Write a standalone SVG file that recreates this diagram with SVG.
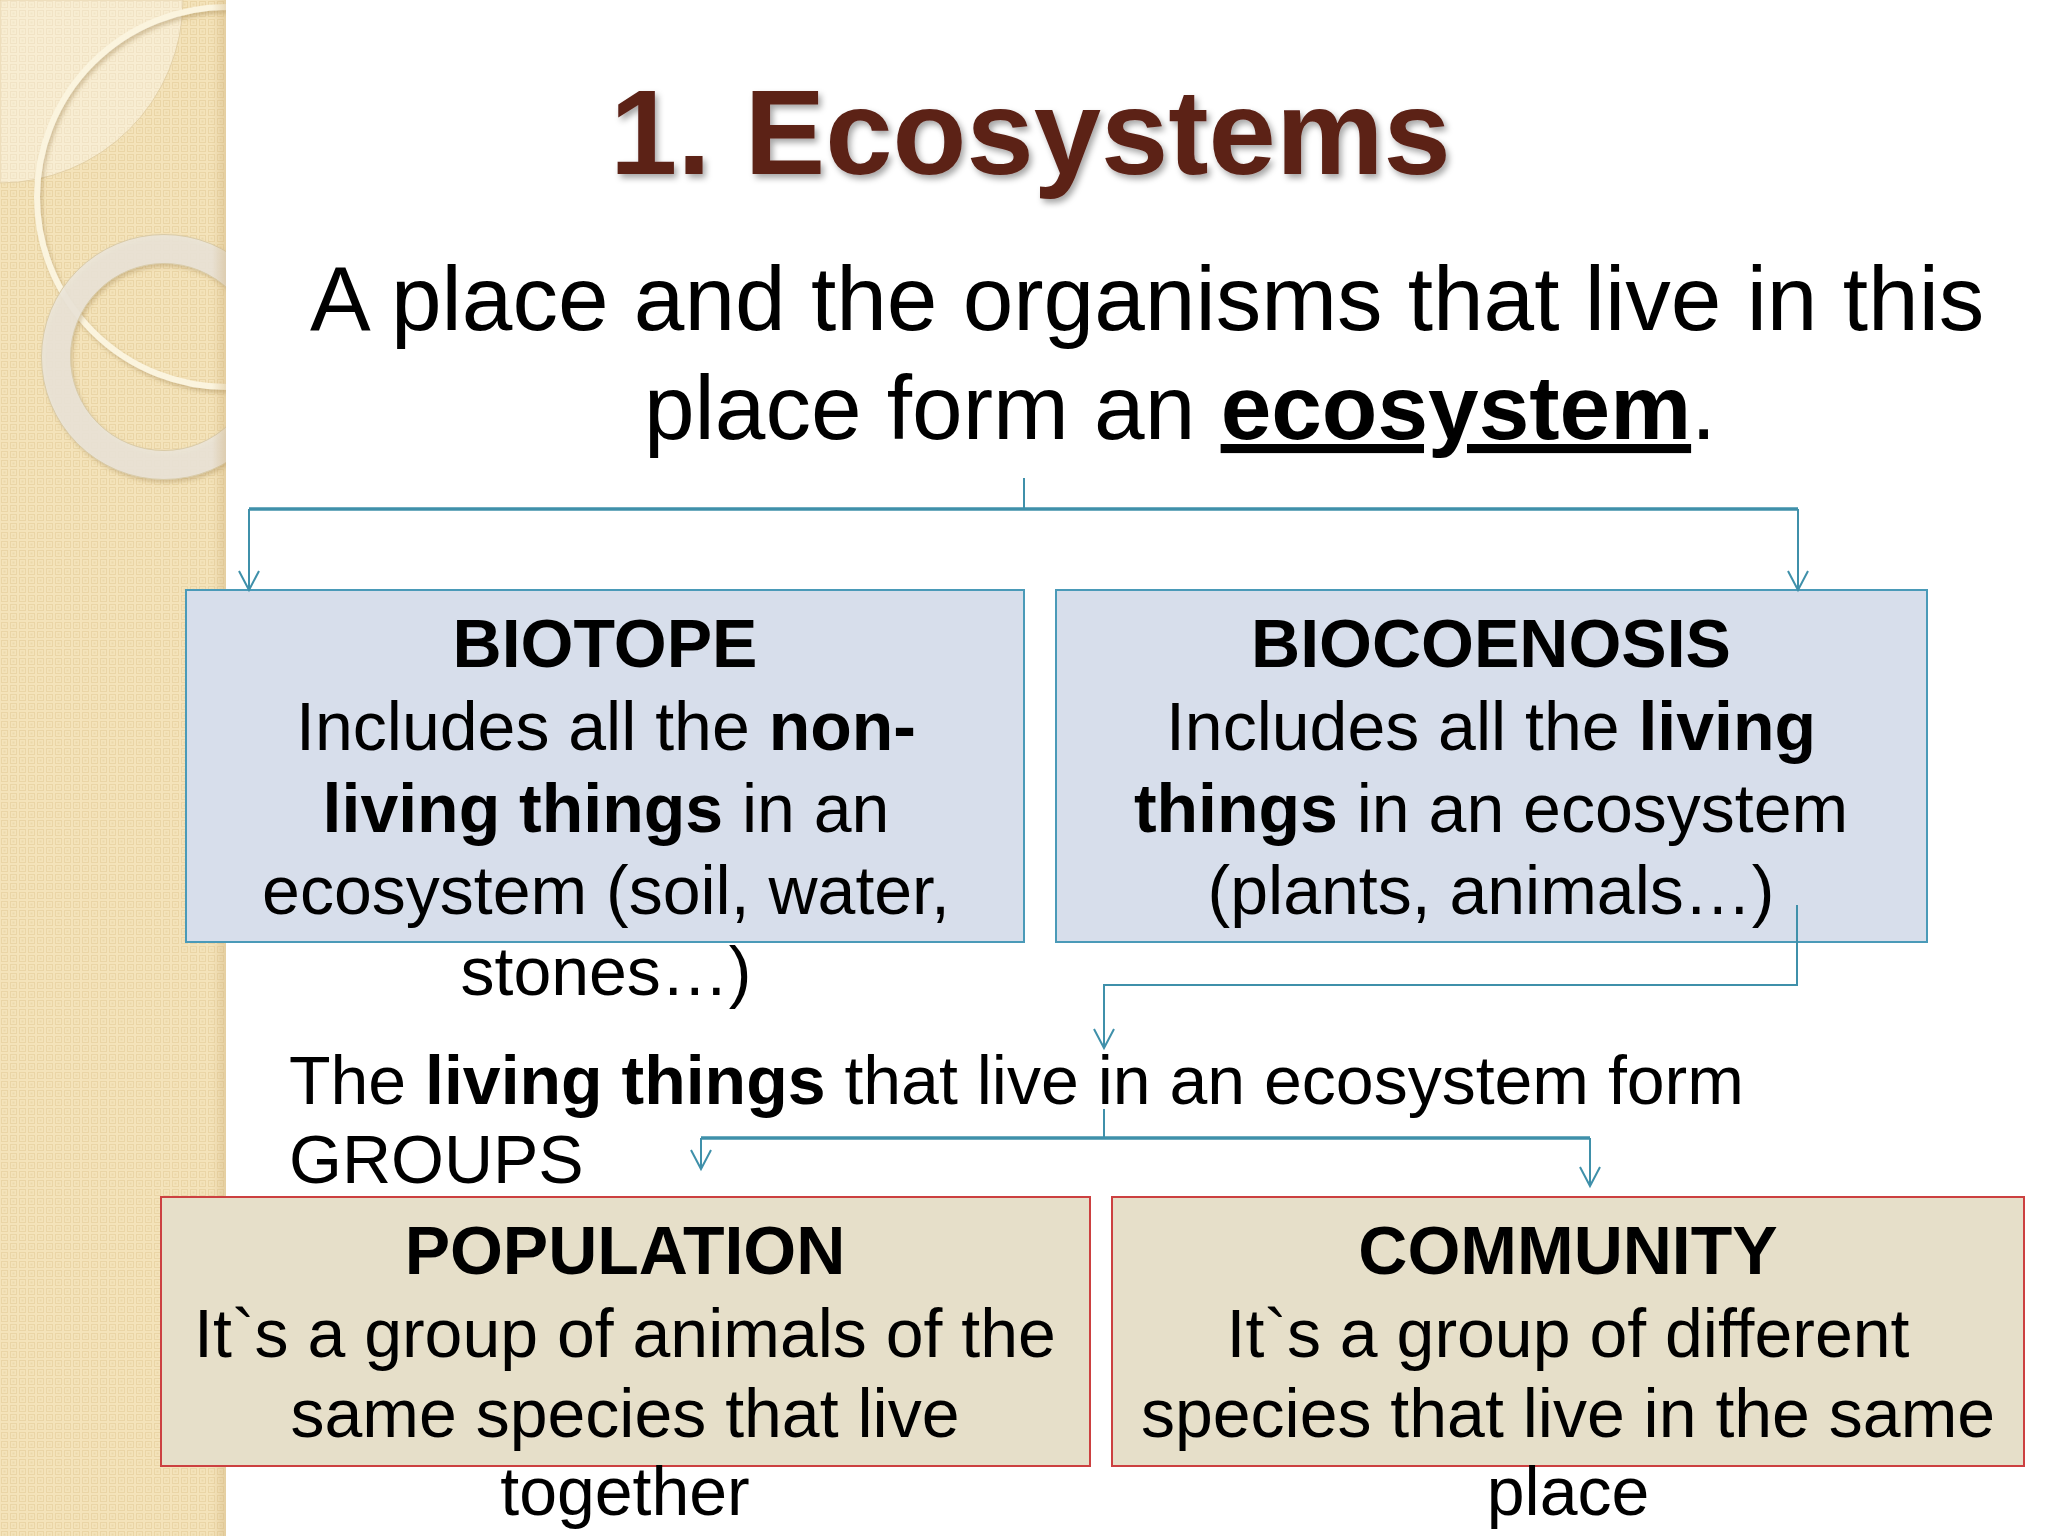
<svg xmlns="http://www.w3.org/2000/svg" width="2048" height="1536" viewBox="0 0 2048 1536">
<style>
.t{font-family:"Liberation Sans",Arial,Helvetica,sans-serif;fill:#000}
.b{font-weight:bold}
.c{text-anchor:middle}
.bx{font-size:68px}
.blue{fill:#D7DEEB;stroke:#4A9AB8;stroke-width:2}
.tan{fill:#E6DFC9;stroke:#CC4040;stroke-width:2}
.thin{fill:none;stroke:#3F90AA;stroke-width:2}
.thick{fill:none;stroke:#3F90AA;stroke-width:3.5}
</style>
<defs>
<pattern id="pat" width="9" height="9" patternUnits="userSpaceOnUse">
<rect width="9" height="9" fill="#F4E3BA"/>
<rect x="1.5" y="1.5" width="6" height="6" fill="none" stroke="#EAD5A6" stroke-width="1"/>
<rect x="3.5" y="3.5" width="2" height="2" fill="#EBD7A9"/>
</pattern>
<linearGradient id="edge" x1="0" y1="0" x2="1" y2="0">
<stop offset="0" stop-color="#C8A870" stop-opacity="0"/>
<stop offset="1" stop-color="#C8A870" stop-opacity="0.35"/>
</linearGradient>
<filter id="ts" x="-5%" y="-20%" width="110%" height="150%">
<feDropShadow dx="3" dy="4" stdDeviation="3" flood-color="#000" flood-opacity="0.35"/>
</filter>
<filter id="rs" x="-20%" y="-20%" width="140%" height="140%">
<feDropShadow dx="2" dy="3" stdDeviation="2" flood-color="#8A6A30" flood-opacity="0.35"/>
</filter>
<marker id="ah" markerUnits="userSpaceOnUse" markerWidth="24" markerHeight="24" refX="0" refY="0" orient="auto" viewBox="-22 -12 24 24" overflow="visible">
<path d="M-19,-10 L0,0 L-19,10" fill="none" stroke="#3F90AA" stroke-width="2"/>
</marker>
</defs>

<g id="background">
<rect width="2048" height="1536" fill="#FFFFFF"/>
<rect x="0" y="0" width="226" height="1536" fill="url(#pat)"/>
<path d="M0,0 H183 A183,183 0 0 1 0,183 Z" fill="#FFFFFF" fill-opacity="0.35" stroke="#E3D0A6" stroke-width="1"/>
<circle cx="227" cy="197" r="190" fill="none" stroke="#FBF4DE" stroke-width="6" filter="url(#rs)"/>
<circle cx="164" cy="357" r="108" fill="none" stroke="#EAE5DA" stroke-width="29" stroke-opacity="0.88" filter="url(#rs)"/>
<circle cx="164" cy="357" r="122.5" fill="none" stroke="#D9CBA8" stroke-width="1"/>
<circle cx="164" cy="357" r="93.5" fill="none" stroke="#D9CBA8" stroke-width="1"/>
<rect x="212" y="0" width="14" height="1536" fill="url(#edge)"/>
<rect x="226" y="0" width="1822" height="1536" fill="#FFFFFF"/>
</g>

<g id="title">
<text class="t b" x="610" y="174" font-size="121" style="fill:#5B2219" filter="url(#ts)">1. Ecosystems</text>
</g>

<g id="definition">
<text class="t" x="310" y="330" font-size="91">A place and the organisms that live in this</text>
<text class="t" x="644" y="439" font-size="91">place form an <tspan class="b" text-decoration="underline">ecosystem</tspan>.</text>
</g>

<g id="biotope">
<rect class="blue" x="186" y="590" width="838" height="352"/>
<text class="t bx c b" x="605" y="667">BIOTOPE</text>
<text class="t bx c" x="606" y="750">Includes all the <tspan class="b">non-</tspan></text>
<text class="t bx c" x="606" y="832"><tspan class="b">living things</tspan> in an</text>
<text class="t bx c" x="606" y="914">ecosystem (soil, water,</text>
<text class="t bx c" x="606" y="995">stones…)</text>
</g>

<g id="biocoenosis">
<rect class="blue" x="1056" y="590" width="871" height="352"/>
<text class="t bx c b" x="1491" y="667">BIOCOENOSIS</text>
<text class="t bx c" x="1491" y="750">Includes all the <tspan class="b">living</tspan></text>
<text class="t bx c" x="1491" y="832"><tspan class="b">things</tspan> in an ecosystem</text>
<text class="t bx c" x="1491" y="914">(plants, animals…)</text>
</g>

<g id="groups-text">
<text class="t bx" x="289" y="1104">The <tspan class="b">living things</tspan> that live in an ecosystem form</text>
<text class="t bx" x="289" y="1183">GROUPS</text>
</g>

<g id="population">
<rect class="tan" x="161" y="1197" width="929" height="269"/>
<text class="t bx c b" x="625" y="1274">POPULATION</text>
<text class="t bx c" x="625" y="1357">It`s a group of animals of the</text>
<text class="t bx c" x="625" y="1437">same species that live</text>
<text class="t bx c" x="625" y="1515">together</text>
</g>

<g id="community">
<rect class="tan" x="1112" y="1197" width="912" height="269"/>
<text class="t bx c b" x="1568" y="1274">COMMUNITY</text>
<text class="t bx c" x="1568" y="1357">It`s a group of different</text>
<text class="t bx c" x="1568" y="1437">species that live in the same</text>
<text class="t bx c" x="1568" y="1515">place</text>
</g>

<g id="connectors">
<path class="thin" d="M1024,478 V509"/>
<path class="thick" d="M249,509 H1798"/>
<path class="thin" d="M249,509 V590" marker-end="url(#ah)"/>
<path class="thin" d="M1798,509 V590" marker-end="url(#ah)"/>
<path class="thin" d="M1797,905 V985 H1104 V1048" marker-end="url(#ah)"/>
<path class="thin" d="M1104,1109 V1138"/>
<path class="thick" d="M701,1138 H1590"/>
<path class="thin" d="M701,1138 V1169" marker-end="url(#ah)"/>
<path class="thin" d="M1590,1138 V1186" marker-end="url(#ah)"/>
</g>
</svg>
